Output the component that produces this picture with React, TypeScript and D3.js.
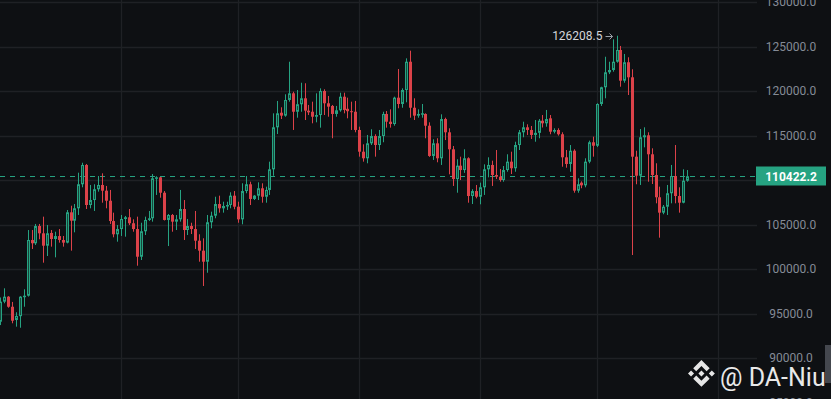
import React from "react";
import * as d3 from "d3";

const W = 831;
const H = 399;
const PLOT_RIGHT = 757;

// daily candles, first one is 2025-05-01
const START_DAY = Date.UTC(2025, 4, 1);

const opens = [
  94080, 96330, 96890, 95760, 94270, 94700, 96890, 97000, 103260, 102890,
  104830, 104010, 102620, 104050, 103370, 103700, 103260, 102960, 106370, 105430,
  106820, 109520, 111690, 107190, 107750, 108960, 109440, 108800, 107670, 105390,
  103900, 104490, 105620, 105810, 105140, 104490, 101380, 104240, 105510, 105700,
  110190, 110300, 108570, 105510, 106070, 105320, 105580, 106740, 104380, 104830,
  104490, 103180, 102060, 100820, 105250, 105990, 107300, 106820, 107080, 107190,
  108240, 107000, 105580, 108760, 109520, 107870, 108240, 109070, 108120, 108880,
  111200, 115920, 117560, 117230, 118990, 119740, 117670, 118510, 119180, 117790,
  117670, 117110, 117300, 120000, 118620, 118320, 117420, 117830, 119360, 118000,
  117730, 117670, 115620, 113180, 112440, 114120, 114940, 113930, 114940, 117420,
  116550, 116290, 119250, 118540, 120110, 123290, 118120, 117230, 117420, 117420,
  116100, 112700, 114120, 112440, 116850, 115360, 113450, 110110, 111610, 111120,
  112440, 108200, 108760, 108120, 109180, 111200, 111690, 110560, 110370, 110000,
  111120, 112060, 111320, 113930, 115360, 115920, 115620, 115060, 115300, 116660,
  116370, 116930, 115430, 115620, 115140, 112550, 111800, 113290, 108800, 109700,
  109400, 112060, 114240, 113850, 118540, 120420, 122100, 122360, 123290, 124610,
  121160, 123230, 121540, 112620, 110480, 114800, 115020, 112890, 110560, 108060,
  106330, 107000, 108510, 110450, 108200, 107450, 109920,
];

const highs = [
  96800, 97830, 96950, 96300, 95140, 96950, 97720, 104380, 104380, 105060,
  105060, 105880, 104940, 104380, 104190, 104490, 103710, 106630, 107110, 107300,
  110820, 111940, 111800, 109440, 109520, 110450, 110750, 109330, 108880, 106330,
  104940, 106070, 105960, 106740, 105580, 105880, 105200, 105880, 106520, 110670,
  110420, 110350, 108760, 106180, 106180, 106070, 108880, 107750, 105620, 105200,
  106520, 103900, 103450, 106070, 106440, 108120, 108240, 107560, 107560, 108620,
  108760, 107560, 109630, 110450, 109810, 108300, 109740, 109630, 109250, 112060,
  117490, 118880, 118170, 119630, 123290, 119920, 120110, 120930, 120870, 118430,
  118800, 119740, 120300, 120190, 119440, 118430, 118320, 119810, 119810, 119250,
  118800, 118880, 115990, 114010, 115060, 115700, 115140, 115620, 117670, 117750,
  117940, 119360, 122470, 120300, 123670, 124530, 119180, 117940, 118540, 117490,
  116480, 114570, 114690, 117380, 117000, 115810, 113820, 112330, 112620, 113450,
  112550, 108960, 109440, 109700, 111760, 112550, 112170, 113370, 111240, 111570,
  112890, 113180, 114300, 115620, 116550, 116260, 116070, 116740, 116850, 117300,
  117870, 117300, 115810, 115810, 115360, 113370, 113930, 113450, 110190, 109850,
  112440, 114420, 114870, 118620, 120480, 123850, 123290, 125810, 126208.5, 125060,
  124160, 123790, 122440, 113290, 115730, 115920, 115360, 113560, 111880, 109250,
  107190, 109440, 111690, 113930, 109180, 111200, 111120,
];

const lows = [
  93700, 96150, 95650, 93900, 93520, 93400, 95760, 96900, 102250, 102700,
  103340, 100710, 101460, 102510, 101310, 102960, 102510, 102880, 102060, 104120,
  106070, 109180, 106740, 106820, 106520, 108690, 107450, 106820, 105060, 103560,
  103070, 103710, 103630, 104940, 104190, 100370, 101010, 103820, 105400, 105320,
  108320, 108010, 105450, 102580, 104190, 104380, 105320, 103260, 103820, 103930,
  102250, 100820, 98090, 99580, 104570, 105700, 106330, 106330, 106630, 106820,
  106710, 105200, 105020, 108510, 107190, 107750, 107750, 107450, 107450, 108320,
  110480, 115170, 116850, 117110, 118800, 115620, 117000, 117670, 116740, 117300,
  116370, 116480, 115880, 117300, 117110, 114690, 117110, 117670, 117490, 116930,
  115620, 115360, 112620, 112060, 111880, 113930, 112620, 113370, 114240, 115880,
  115880, 116100, 118060, 118120, 118730, 117000, 116740, 117000, 117000, 114690,
  112600, 112250, 111990, 111690, 114490, 110640, 109330, 108570, 110000, 110800,
  107450, 107300, 107940, 107270, 108320, 110300, 109330, 110110, 109810, 109810,
  110930, 110670, 110930, 113370, 114800, 115060, 114610, 114300, 114690, 115900,
  115990, 115140, 115240, 114990, 111490, 111380, 110930, 108570, 108570, 109070,
  109180, 111880, 112620, 113700, 118320, 119180, 121900, 122170, 123180, 120480,
  120930, 119550, 101570, 109520, 109440, 113670, 109810, 109550, 107380, 103520,
  106150, 106070, 107380, 107380, 106330, 107380, 109810,
];

const closes = [
  96330, 96890, 95760, 94190, 94720, 96890, 97000, 103260, 102890, 104830,
  104010, 102620, 104010, 103370, 103700, 103260, 102960, 106370, 105430, 106820,
  109520, 111690, 107190, 107750, 108960, 109440, 108800, 107670, 105390, 103900,
  104490, 105620, 105810, 105140, 104490, 101380, 104240, 105510, 105700, 110190,
  110300, 108570, 105510, 106070, 105320, 105580, 106740, 104380, 104830, 104490,
  103180, 102060, 100820, 105250, 105990, 107300, 106820, 107080, 107190, 108240,
  107000, 105580, 108760, 109520, 107870, 108240, 109070, 108120, 108880, 111200,
  115920, 117490, 117230, 118990, 119740, 117670, 118510, 119180, 117790, 117600,
  117110, 117300, 120000, 118620, 118240, 117420, 117830, 119360, 117870, 117730,
  117670, 115620, 113180, 112440, 114120, 114940, 113930, 114940, 117420, 116550,
  116290, 119250, 118540, 120110, 123290, 118120, 117230, 117420, 117500, 116100,
  112700, 114120, 112440, 116850, 115360, 113450, 110110, 111610, 111120, 112440,
  108200, 108760, 108120, 109180, 111200, 111690, 110560, 110370, 110000, 111120,
  112060, 111320, 113930, 115360, 115920, 115620, 115060, 115300, 116660, 116370,
  116850, 115430, 115620, 115140, 112550, 111800, 113290, 108800, 109520, 109400,
  112060, 114240, 113850, 118540, 120420, 122100, 122360, 123290, 124610, 121160,
  123230, 121540, 112620, 110480, 114800, 115020, 112890, 110560, 108060, 106330,
  107000, 108510, 110450, 108200, 107450, 109920, 110422.2,
];

const priceTicks = [85000, 90000, 95000, 100000, 105000, 110000, 115000, 120000, 125000, 130000];

const UP = "#26a382";
const UP_FILL = "#17473b";
const DOWN = "#dc4249";
const BG = "#0e1013";
const GRID = "#1f2125";
const AXIS_TEXT = "#858b96";
const FONT = "Roboto, 'Noto Sans', sans-serif";

// binance mark (24x24 box)
const BNB_PATH =
  "M16.624 13.9202l2.7175 2.7154-7.353 7.353-7.353-7.352 2.7175-2.7164 4.6355 4.6595 4.6356-4.6595zm4.6366-4.6366L24 12l-2.7154 2.7164L18.5682 12l2.6924-2.7164zm-9.272.001l2.7163 2.6914-2.7164 2.7174v-.001L9.2721 12l2.7164-2.7154zm-9.2722-.001L5.4088 12l-2.6914 2.6924L0 12l2.7164-2.7164zM11.9885.0115l7.353 7.329-2.7174 2.7154-4.6356-4.6356-4.6355 4.6595-2.7174-2.7154 7.353-7.353z";

export default function App() {
  const candles = closes.map((c, i) => ({
    date: d3.utcDay.offset(new Date(START_DAY), i),
    o: opens[i],
    h: highs[i],
    l: lows[i],
    c,
  }));

  const x = d3
    .scaleUtc()
    .domain([new Date(START_DAY), new Date(Date.UTC(2025, 10, 1))])
    .range([0.3, 0.3 + 184 * 3.9]);

  const y = d3.scaleLinear().domain([85000, 130000]).range([402.5, 2]);

  const months = d3.utcMonth.range(new Date(Date.UTC(2025, 5, 1)), new Date(Date.UTC(2025, 10, 2)));

  const last = candles[candles.length - 1].c;
  const lastY = y(last);
  const maxIdx = d3.maxIndex(candles, (d) => d.h);
  const maxC = candles[maxIdx];
  const maxX = x(maxC.date);
  const maxY = y(maxC.h);

  return (
    <svg
      width={W}
      height={H}
      style={{ position: "fixed", left: 0, top: 0, background: BG, display: "block" }}
    >
      <rect width={W} height={H} fill={BG} />

      {/* grid */}
      <g>
        {priceTicks.map((t) => (
          <line
            key={t}
            x1={0}
            x2={PLOT_RIGHT}
            y1={Math.round(y(t)) + 0.5}
            y2={Math.round(y(t)) + 0.5}
            stroke={GRID}
            strokeWidth={1.3}
          />
        ))}
        {months.map((m) => (
          <line
            key={+m}
            x1={Math.round(x(m)) + 0.5}
            x2={Math.round(x(m)) + 0.5}
            y1={0}
            y2={H}
            stroke={GRID}
            strokeWidth={1.3}
          />
        ))}
      </g>

      {/* last price line */}
      <line
        x1={0}
        x2={PLOT_RIGHT}
        y1={Math.round(lastY) + 0.5}
        y2={Math.round(lastY) + 0.5}
        stroke={UP}
        strokeWidth={1}
        strokeDasharray="5 5"
      />

      {/* candles */}
      <g>
        {candles.map((d, i) => {
          const cx = Math.round(x(d.date));
          const up = d.c >= d.o;
          const top = y(Math.max(d.o, d.c));
          const bot = y(Math.min(d.o, d.c));
          const bh = Math.max(1, bot - top);
          return (
            <g key={i}>
              <line
                x1={cx + 0.5}
                x2={cx + 0.5}
                y1={y(d.h)}
                y2={y(d.l)}
                stroke={up ? UP : DOWN}
                strokeWidth={1}
              />
              {up ? (
                <rect
                  x={cx - 0.5}
                  y={top + 0.5}
                  width={2}
                  height={Math.max(0.5, bh - 1)}
                  fill={UP_FILL}
                  stroke={UP}
                  strokeWidth={1}
                />
              ) : (
                <rect x={cx - 1} y={top} width={3} height={bh} fill={DOWN} />
              )}
            </g>
          );
        })}
      </g>

      {/* max marker */}
      <text
        x={maxX - 14}
        y={maxY}
        dy="0.35em"
        textAnchor="end"
        fill="#d4d6db"
        fontSize={12}
        fontFamily={FONT}
      >
        {d3.format(".1f")(maxC.h)}
      </text>
      <path
        d={`M${maxX - 11},${Math.round(maxY) + 0.5}H${maxX - 4}M${maxX - 7},${Math.round(maxY) - 2.5}L${maxX - 4},${Math.round(maxY) + 0.5}L${maxX - 7},${Math.round(maxY) + 3.5}`}
        stroke="#9aa0a8"
        strokeWidth={1}
        fill="none"
      />

      {/* price axis */}
      <g fontFamily={FONT} fontSize={12} fill={AXIS_TEXT} textAnchor="middle">
        {priceTicks
          .filter((t) => Math.abs(y(t) - lastY) > 12)
          .map((t) => (
            <text key={t} x={791} y={y(t)} dy="0.36em">
              {d3.format(".1f")(t)}
            </text>
          ))}
      </g>
      <rect x={756} y={Math.round(lastY) - 9.5} width={70} height={19} fill={UP} />
      <text
        x={791}
        y={lastY}
        dy="0.36em"
        textAnchor="middle"
        fill="#ffffff"
        fontSize={12}
        fontWeight="bold"
        fontFamily={FONT}
      >
        {d3.format(".1f")(last)}
      </text>

      {/* scroll thumb */}
      <rect x={825} y={345} width={6} height={38} fill="#44474e" />

      {/* watermark */}
      <g opacity={0.95}>
        <path d={BNB_PATH} transform="translate(688,360) scale(1.12)" fill="#f2f2f2" />
        <text x={720} y={386} fill="#f5f5f5" fontSize={25} fontFamily={FONT}>
          @ DA-Niu
        </text>
      </g>
    </svg>
  );
}
